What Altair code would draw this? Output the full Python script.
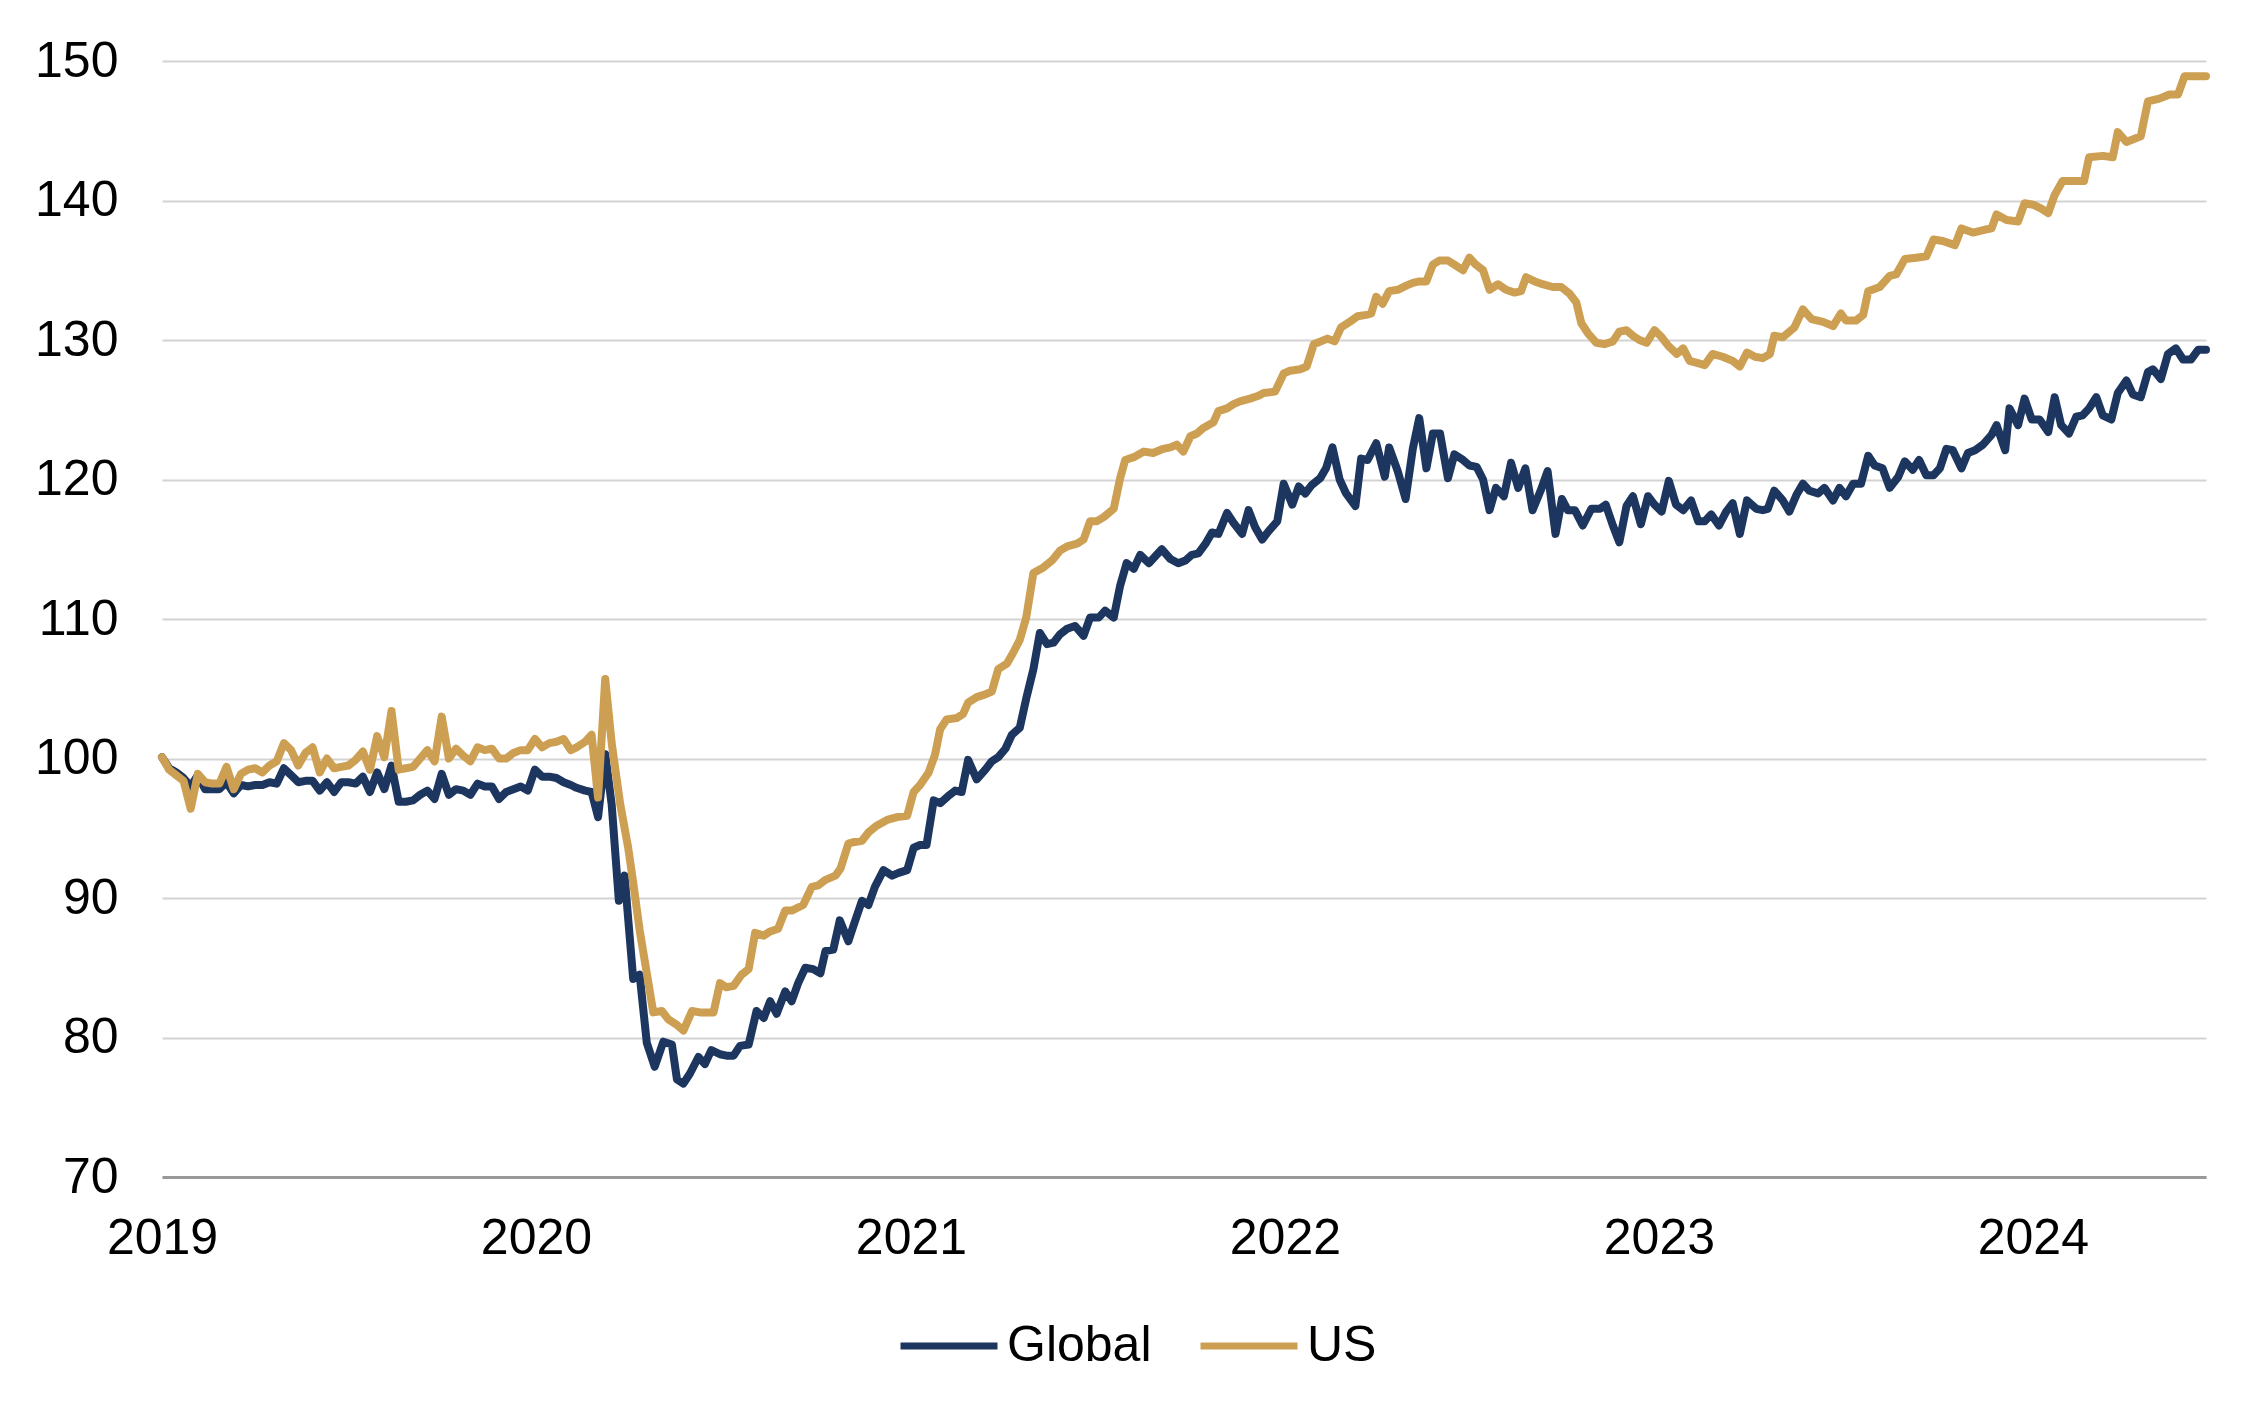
import altair as alt
import pandas as pd

# ---- data (x = weeks since 2019-01-01, y = index) ----
global_weeks = [
    0, 1, 2, 3, 4, 5, 6, 7, 8, 9, 10, 11, 12, 13, 14, 15, 16, 17, 18, 19,
    20, 21, 22, 23, 24, 25, 26, 27, 28, 29, 30, 31, 32, 33, 34, 35, 36, 37, 38, 39,
    40, 41, 42, 43, 44, 45, 46, 47, 48, 49, 50, 51, 52, 53, 54, 55, 56, 57,
    57.8, 59.0, 59.9, 60.8, 61.8, 62.7, 63.7, 64.5, 65.7, 66.6, 67.6, 68.7, 69.9, 71.1, 71.8, 72.7,
    73.6, 74.8, 75.7, 76.6, 77.8, 78.7, 79.7, 80.6, 81.8, 82.9, 83.9, 84.8, 85.7, 86.9, 87.8, 88.7,
    89.7, 90.8, 91.8, 92.5, 93.6, 94.5, 95.7, 96.4, 97.6, 98.5, 99.4, 100.6, 101.8, 102.7, 103.9,
    104.8, 105.7, 106.6, 107.6, 108.5,
    109.6, 110.6, 111.5, 112.4, 113.6, 114.8, 115.7, 116.6, 117.6, 118.5, 119.6, 120.5, 121.5, 122.4,
    123.4, 124.3, 125.2, 126.2, 127.3, 128.5, 129.4, 130.6, 131.5, 132.7, 133.6, 134.5, 135.5, 136.4,
    137.6, 138.5, 139.4, 140.6, 141.7, 142.7, 143.6, 144.5, 145.5, 146.4, 147.3, 148.5, 149.4, 150.6,
    151.5, 152.4, 153.4, 154.3, 155.5, 156.4, 157.6, 158.5, 159.4, 160.3, 161.5,
    162.3, 163.2, 164.2, 165.1, 166.4, 167.2, 168.1, 169.3, 170.5, 171.1, 172.3, 173.4, 174.4, 175.3,
    176.3, 177.2, 178.2, 179.3, 180.2, 181.4, 182.3, 183.3, 184.2, 185.1, 186.0, 187.1, 188.1, 189.1,
    190.1, 191.1, 192.3, 193.2, 194.3, 195.2, 196.0, 197.0, 198.1, 199.3, 200.5, 201.3, 202.3, 203.2,
    204.2, 205.1, 206.2, 207.2, 208.1, 209.1, 210.1, 211.1, 212.1, 213.2, 214.2,
    215.1, 216.0, 217.1, 218.1, 219.0, 220.0, 221.0, 222.3, 223.2, 223.9, 224.8, 226.0, 226.9, 227.9,
    228.8, 229.7, 230.9, 231.8, 233.0, 233.9, 234.8, 235.8, 236.9, 237.9, 238.8, 239.9, 240.9, 242.1,
    243.0, 244.1, 245.0, 246.0, 247.0, 247.9, 248.8, 249.7, 250.9, 251.8, 252.8, 253.9, 255.1, 255.8,
    257.0, 257.6, 258.8, 259.7, 260.7, 261.8, 263.0, 263.9, 264.8, 265.9, 266.9,
    267.8, 268.7, 269.7, 270.6, 271.8, 272.7, 273.9, 274.8, 275.9, 276.9, 277.6, 278.7, 279.7, 280.8,
    281.8, 282.9, 283.9, 285.0,
]
global_values = [
    100.1, 99.3, 99.0, 98.6, 98.0, 98.8, 97.8, 97.8, 97.8, 98.3, 97.5, 98.1, 98.0, 98.1, 98.1, 98.3,
    98.2, 99.3, 98.8, 98.3, 98.4, 98.4, 97.7, 98.3, 97.6, 98.3, 98.3, 98.2, 98.7, 97.6, 99.0, 97.8,
    99.5, 96.9, 96.9, 97.0, 97.4, 97.7, 97.1, 98.9, 97.4, 97.8, 97.7, 97.4, 98.2, 98.0, 98.0, 97.1,
    97.6, 97.8, 98.0, 97.7, 99.2, 98.7, 98.7, 98.6, 98.3, 98.1,
    97.9, 97.7, 97.6, 95.8, 100.3, 96.7, 89.8, 91.6, 84.2, 84.5, 79.6, 77.9, 79.7, 79.5, 77.0, 76.7,
    77.4, 78.6, 78.1, 79.1, 78.8, 78.7, 78.7, 79.4, 79.5, 81.9, 81.4, 82.6, 81.7, 83.3, 82.6, 83.9,
    85.0, 84.9, 84.6, 86.2, 86.3, 88.4, 86.9, 88.0, 89.8, 89.5, 90.8, 92.0, 91.6, 91.8, 92.0,
    93.6, 93.8, 93.8, 97.0, 96.8,
    97.3, 97.7, 97.6, 99.9, 98.5, 99.2, 99.8, 100.1, 100.7, 101.7, 102.2, 104.3, 106.4, 109.0,
    108.2, 108.3, 108.9, 109.3, 109.5, 108.8, 110.1, 110.1, 110.6, 110.1, 112.4, 114.0, 113.6, 114.6,
    114.0, 114.5, 115.0, 114.3, 114.0, 114.2, 114.6, 114.7, 115.4, 116.2, 116.1, 117.6, 116.9, 116.1,
    117.8, 116.6, 115.7, 116.3, 117.0, 119.7, 118.2, 119.5, 119.0, 119.6, 120.1,
    120.8, 122.3, 120.0, 119.0, 118.1, 121.5, 121.4, 122.6, 120.2, 122.3, 120.6, 118.6, 122.2, 124.4,
    120.8, 123.3, 123.3, 120.1, 121.8, 121.4, 121.0, 120.9, 120.0, 117.8, 119.4, 118.8, 121.2, 119.4,
    120.8, 117.8, 119.3, 120.6, 116.1, 118.6, 117.8, 117.8, 116.7, 117.9, 117.9, 118.2, 116.7, 115.5,
    118.1, 118.8, 116.8, 118.8, 118.2, 117.7, 119.9, 118.2, 117.8, 118.5, 117.0,
    117.0, 117.5, 116.7, 117.7, 118.3, 116.1, 118.5, 117.9, 117.8, 117.9, 119.2, 118.5, 117.7, 118.9,
    119.7, 119.2, 119.0, 119.4, 118.5, 119.4, 118.8, 119.7, 119.7, 121.7, 121.0, 120.8, 119.4, 120.2,
    121.3, 120.7, 121.4, 120.3, 120.3, 120.8, 122.2, 122.1, 120.8, 121.9, 122.1, 122.5, 123.2, 123.9,
    122.1, 125.1, 123.9, 125.8, 124.3, 124.3, 123.4, 125.9, 123.9, 123.3, 124.5,
    124.6, 125.1, 125.9, 124.6, 124.3, 126.2, 127.1, 126.1, 125.9, 127.7, 127.9, 127.2, 129.0, 129.4,
    128.6, 128.6, 129.3, 129.3,
]

us_weeks = [
    0, 1, 2, 3, 4, 5, 6, 7, 8, 9, 10, 11, 12, 13, 14, 15, 16, 17, 18, 19,
    20, 21, 22, 23, 24, 25, 26, 27, 28, 29, 30, 31, 32, 33, 34, 35, 36, 37, 38, 39,
    40, 41, 42, 43, 44, 45, 46, 47, 48, 49, 50, 51, 52, 53, 54, 55, 56, 57,
    57.8, 59.0, 59.9, 60.8, 61.8, 62.7, 63.9, 65.0, 65.7, 66.6, 67.6, 68.5, 69.7, 70.6, 71.8, 72.7,
    73.9, 75.0, 76.9, 77.8, 78.7, 79.7, 80.8, 81.8, 82.7, 83.9, 84.8, 85.9, 86.9, 87.8, 89.4, 90.6,
    91.5, 92.5, 93.9, 94.6, 95.7, 96.4, 97.6, 98.5, 99.7, 101.1, 102.5, 103.9, 104.8, 105.7, 106.9,
    107.8, 108.5,
    109.4, 110.8, 111.7, 112.4, 113.6, 114.8, 115.7, 116.6, 117.8, 118.7, 119.6, 120.5, 121.5, 122.9,
    124.1, 125.2, 126.2, 127.6, 128.5, 129.4, 130.3, 131.3, 132.7, 133.6, 134.3, 135.5, 136.9, 138.2,
    139.6, 140.6, 141.5, 142.4, 143.4, 144.3, 145.2, 146.6, 147.3, 148.5, 149.4, 150.3, 151.7, 152.9,
    153.6, 155.2, 156.4, 157.3, 158.7, 159.6, 160.6,
    162.5, 163.5, 164.4, 165.6, 166.7, 167.9, 168.6, 169.3, 170.2, 171.1, 172.3, 173.5, 174.4, 175.3,
    176.3, 177.2, 178.1, 179.3, 180.2, 181.4, 182.3, 183.2, 184.2, 185.1, 186.3, 187.4, 188.6, 189.5,
    190.2, 191.4, 192.5, 193.9, 195.1, 196.3, 197.2, 197.9, 198.8, 200.0, 201.1, 202.3, 203.2, 204.2,
    205.1, 206.0, 207.0, 208.1, 209.1, 210.0, 211.2, 212.1, 213.0, 214.4,
    215.1, 216.2, 217.6, 219.0, 220.0, 221.0, 222.1, 223.2, 224.2, 224.8, 226.0, 227.6, 228.8, 230.0,
    231.6, 233.0, 234.1, 234.8, 236.2, 237.2, 237.9, 239.5, 240.9, 241.8, 243.0, 244.6, 246.0, 247.0,
    248.3, 250.0, 250.9, 252.5, 254.1, 255.1, 255.8, 257.2, 258.8, 259.7, 260.9, 262.1, 263.0, 263.9,
    265.0, 266.6, 268.0, 268.7, 270.6, 272.0, 272.7, 273.9, 275.9, 276.9, 278.5, 279.9, 281.1, 282.0,
    283.6, 285.0,
]
us_values = [
    100.1, 99.2, 98.8, 98.4, 96.4, 98.9, 98.3, 98.2, 98.2, 99.4, 97.8, 98.9, 99.2, 99.3, 99.0, 99.5,
    99.8, 101.1, 100.6, 99.5, 100.4, 100.8, 99.0, 100.0, 99.3, 99.4, 99.5, 99.9, 100.5, 99.2, 101.6,
    100.1, 103.4, 99.2, 99.3, 99.4, 100.0, 100.6, 99.8, 103.0, 100.0, 100.7, 100.2, 99.8, 100.8,
    100.6, 100.7, 100.0, 100.0, 100.4, 100.6, 100.6, 101.4, 100.8, 101.1, 101.2, 101.4, 100.6,
    100.8, 101.2, 101.7, 97.2, 105.7, 101.1, 96.7, 93.6, 91.1, 87.7, 84.6, 81.8, 81.9, 81.3, 80.9, 80.5,
    81.9, 81.8, 81.8, 83.9, 83.6, 83.7, 84.5, 84.9, 87.5, 87.3, 87.6, 87.8, 89.1, 89.1, 89.5, 90.8,
    90.9, 91.3, 91.6, 92.1, 93.9, 94.0, 94.1, 94.7, 95.2, 95.6, 95.8, 95.9, 97.6, 98.1, 99.0,
    100.3, 102.1,
    102.8, 102.9, 103.2, 104.0, 104.4, 104.6, 104.8, 106.4, 106.8, 107.6, 108.5, 110.1, 113.3, 113.7,
    114.2, 114.9, 115.2, 115.4, 115.7, 117.0, 117.0, 117.3, 117.9, 120.1, 121.4, 121.6, 122.0, 121.9,
    122.2, 122.3, 122.5, 122.0, 123.1, 123.3, 123.7, 124.1, 124.9, 125.1, 125.4, 125.6, 125.8, 126.0,
    126.2, 126.3, 127.6, 127.8, 127.9, 128.1, 129.7,
    130.1, 129.9, 130.9, 131.3, 131.7, 131.8, 131.9, 133.1, 132.6, 133.5, 133.6, 133.9, 134.1, 134.2,
    134.2, 135.4, 135.7, 135.7, 135.4, 135.0, 135.9, 135.4, 135.0, 133.6, 134.0, 133.6, 133.4, 133.5,
    134.5, 134.2, 134.0, 133.8, 133.8, 133.3, 132.7, 131.2, 130.5, 129.8, 129.7, 129.9, 130.6, 130.7,
    130.3, 130.0, 129.8, 130.7, 130.2, 129.6, 129.0, 129.4, 128.5, 128.3,
    128.2, 129.0, 128.8, 128.5, 128.1, 129.1, 128.8, 128.7, 129.0, 130.3, 130.2, 130.9, 132.2, 131.5,
    131.3, 131.0, 131.9, 131.4, 131.4, 131.8, 133.5, 133.8, 134.6, 134.7, 135.8, 135.9, 136.0, 137.2,
    137.1, 136.8, 138.0, 137.7, 137.9, 138.0, 139.0, 138.6, 138.5, 139.8, 139.7, 139.4, 139.1, 140.4,
    141.4, 141.4, 141.4, 143.1, 143.2, 143.1, 144.9, 144.2, 144.6, 147.1, 147.3, 147.6, 147.6, 148.9,
    148.9, 148.9,
]

series_names = ["Global", "US"]
series_colors = ["#1d365f", "#cd9f52"]
y_ticks = [70, 80, 90, 100, 110, 120, 130, 140, 150]
year_ticks = [2019, 2020, 2021, 2022, 2023, 2024]

# ---- build table ----
start = pd.Timestamp("2019-01-01")


def make_frame(name, weeks, values):
    dates = [start + pd.Timedelta(days=7 * w) for w in weeks]
    return pd.DataFrame({"date": dates, "value": values, "series": name})


df = pd.concat(
    [make_frame("Global", global_weeks, global_values),
     make_frame("US", us_weeks, us_values)],
    ignore_index=True,
)
df["order"] = range(len(df))
end = df["date"].max()

FONT = "Liberation Sans"
FS = 50

chart = (
    alt.Chart(df)
    .mark_line(strokeWidth=8, strokeJoin="round", strokeCap="round")
    .encode(
        x=alt.X(
            "date:T",
            scale=alt.Scale(
                domain=[
                    alt.DateTime(year=2019, month=1, date=1),
                    alt.DateTime(year=int(end.year), month=int(end.month), date=int(end.day),
                                 hours=int(end.hour), minutes=int(end.minute)),
                ],
                nice=False,
            ),
            axis=alt.Axis(
                values=[alt.DateTime(year=y, month=1, date=1) for y in year_ticks],
                format="%Y",
                title=None,
                grid=False,
                ticks=False,
                tickSize=0,
                domain=True,
                domainColor="#999999",
                domainWidth=3,
                labelFont=FONT,
                labelFontSize=FS,
                labelColor="#000000",
                labelPadding=36,
                labelFlush=False,
                labelOverlap=False,
            ),
        ),
        y=alt.Y(
            "value:Q",
            scale=alt.Scale(domain=[70, 150], nice=False, zero=False),
            axis=alt.Axis(
                values=y_ticks,
                title=None,
                grid=True,
                gridColor="#d3d3d3",
                gridWidth=2,
                ticks=False,
                tickSize=0,
                domain=False,
                labelFont=FONT,
                labelFontSize=FS,
                labelColor="#000000",
                labelPadding=44,
            ),
        ),
        color=alt.Color(
            "series:N",
            scale=alt.Scale(domain=series_names, range=series_colors),
            legend=alt.Legend(
                title=None,
                orient="none",
                legendX=735,
                legendY=1233,
                direction="horizontal",
                columns=2,
                symbolType="stroke",
                symbolSize=9400,
                symbolStrokeWidth=7,
                labelFont=FONT,
                labelFontSize=FS,
                labelColor="#000000",
                labelOffset=6,
                labelLimit=400,
                columnPadding=34,
            ),
        ),
        order=alt.Order("order:Q"),
    )
    .properties(
        width=2044,
        height=1116,
        autosize=alt.AutoSizeParams(type="none"),
        padding={"left": 154, "top": 53, "right": 40, "bottom": 230},
        background="white",
    )
    .configure_view(stroke=None)
)

chart.save("out.html", embed_options={"renderer": "svg", "actions": False})
